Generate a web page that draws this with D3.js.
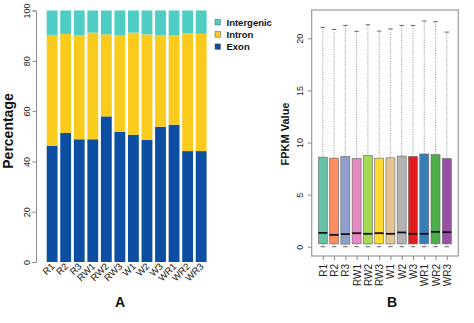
<!DOCTYPE html>
<html>
<head>
<meta charset="utf-8">
<script src="https://cdn.jsdelivr.net/npm/d3@7/dist/d3.min.js"></script>
<style>
  body { margin: 0; background: #fff; }
  svg { display: block; font-family: "Liberation Sans", Arial, sans-serif; }
</style>
</head>
<body>
<svg id="fig" width="474" height="323"></svg>
<script>
// samples shared by both panels
var samples = ["R1", "R2", "R3", "RW1", "RW2", "RW3", "W1", "W2", "W3", "WR1", "WR2", "WR3"];

// panel A: read percentages per sample (exon, intron, intergenic add to 100)
var exon   = [46.2, 51.3, 48.8, 48.8, 57.9, 51.7, 50.6, 48.5, 53.8, 54.6, 44.1, 44.1];
var intron = [44.1, 39.4, 41.3, 42.4, 32.6, 38.4, 40.6, 42.0, 36.3, 35.5, 46.8, 46.6];
var intergenic = exon.map(function(e, i) { return 100 - e - intron[i]; });
var pctTicks = [0, 20, 40, 60, 80, 100];

// panel B: FPKM box stats
var fpkmMin = [0, 0, 0, 0, 0, 0, 0, 0, 0, 0, 0, 0];
var fpkmQ1  = [0.28, 0.27, 0.25, 0.28, 0.27, 0.28, 0.27, 0.27, 0.27, 0.28, 0.28, 0.27];
var fpkmMed = [1.33, 1.14, 1.21, 1.30, 1.24, 1.30, 1.24, 1.37, 1.24, 1.24, 1.43, 1.40];
var fpkmQ3  = [8.6, 8.5, 8.66, 8.47, 8.75, 8.5, 8.53, 8.7, 8.66, 8.9, 8.85, 8.47];
var fpkmMax = [21.05, 20.86, 21.24, 20.67, 21.3, 20.7, 20.9, 21.24, 21.24, 21.66, 21.6, 20.6];
var fpkmTicks = [0, 5, 10, 15, 20];
var boxColors = ["#66C2A5", "#FC8D62", "#8DA0CB", "#E78AC3", "#A6D854", "#FFD92F",
                 "#E5C494", "#B3B3B3", "#E41A1C", "#377EB8", "#4DAF4A", "#984EA3"];

var svg = d3.select("#fig");

// ---------- A: stacked percentage bars ----------
var regions = ["exon", "intron", "intergenic"];
var regionLabel = { intergenic: "Intergenic", intron: "Intron", exon: "Exon" };
var regionColor = { exon: "#0B4EA2", intron: "#FACB1C", intergenic: "#4ECDC4" };

var rows = samples.map(function(s, i) {
  return { sample: s, exon: exon[i], intron: intron[i], intergenic: intergenic[i] };
});
var stacked = d3.stack().keys(regions)(rows);

var xa = d3.scaleBand().domain(samples).range([45.35, 207.95])
  .paddingInner(0.2).paddingOuter(0.1);
var ya = d3.scaleLinear().domain([0, 100]).range([262, 10.5]);

var gA = svg.append("g");
gA.selectAll("g.layer").data(stacked).enter().append("g")
    .attr("class", "layer")
    .attr("fill", function(d) { return regionColor[d.key]; })
  .selectAll("rect").data(function(d) { return d; }).enter().append("rect")
    .attr("x", function(d) { return xa(d.data.sample); })
    .attr("width", xa.bandwidth())
    .attr("y", function(d) { return ya(d[1]); })
    .attr("height", function(d) { return ya(d[0]) - ya(d[1]); });

var axA = gA.append("g").attr("transform", "translate(36,0)")
  .call(d3.axisLeft(ya).tickValues(pctTicks).tickSize(3.5).tickPadding(4));
axA.select(".domain").attr("stroke", "#8a8a8a");
axA.selectAll(".tick line").attr("stroke", "#8a8a8a");
axA.selectAll(".tick text")
    .attr("font-size", 9).attr("fill", "#222")
    .attr("text-anchor", "middle")
    .attr("transform", function(d) { return "translate(-9," + 0 + ") rotate(-90)"; })
    .attr("x", 0).attr("dy", "0.35em");

gA.selectAll("text.xl").data(samples).enter().append("text")
    .attr("class", "xl")
    .attr("transform", function(d) {
      return "translate(" + (xa(d) + xa.bandwidth() / 2 + 3) + ",267) rotate(-45)";
    })
    .attr("text-anchor", "end")
    .attr("font-size", 9.5).attr("fill", "#111")
    .text(function(d) { return d; });

gA.append("text")
    .attr("transform", "translate(13,131) rotate(-90)")
    .attr("text-anchor", "middle")
    .attr("font-size", 14).attr("font-weight", "bold").attr("fill", "#111")
    .text("Percentage");

gA.append("text").attr("x", 120).attr("y", 306.5)
    .attr("text-anchor", "middle")
    .attr("font-size", 14).attr("font-weight", "bold").attr("fill", "#111")
    .text("A");

var legend = gA.selectAll("g.leg").data(["intergenic", "intron", "exon"]).enter().append("g")
    .attr("class", "leg")
    .attr("transform", function(d, i) { return "translate(215," + (19.5 + i * 12.2) + ")"; });
legend.append("rect").attr("width", 5.5).attr("height", 5.5)
    .attr("fill", function(d) { return regionColor[d]; })
    .attr("stroke", "#555").attr("stroke-width", 0.5);
legend.append("text").attr("x", 11.5).attr("y", 6.2)
    .attr("font-size", 9.5).attr("font-weight", "bold").attr("fill", "#111")
    .text(function(d) { return regionLabel[d]; });

// ---------- B: FPKM boxplots ----------
var xb = d3.scalePoint().domain(samples).range([322.8, 446.8]);
var yb = d3.scaleLinear().domain([-0.89, 22.72]).range([256, 10]);
var boxW = 9, capW = 4.5;

var gB = svg.append("g");
gB.append("rect").attr("x", 311.7).attr("y", 10)
    .attr("width", 146.6).attr("height", 246)
    .attr("fill", "none").attr("stroke", "#999").attr("stroke-width", 1.2);

var boxes = gB.selectAll("g.box").data(samples).enter().append("g").attr("class", "box");
boxes.append("line")
    .attr("x1", function(d) { return xb(d); }).attr("x2", function(d) { return xb(d); })
    .attr("y1", function(d, i) { return yb(fpkmQ3[i]); })
    .attr("y2", function(d, i) { return yb(fpkmMax[i]); })
    .attr("stroke", "#888").attr("stroke-width", 0.8).attr("stroke-dasharray", "1.2,1.2");
boxes.append("line")
    .attr("x1", function(d) { return xb(d); }).attr("x2", function(d) { return xb(d); })
    .attr("y1", function(d, i) { return yb(fpkmQ1[i]); })
    .attr("y2", function(d, i) { return yb(fpkmMin[i]); })
    .attr("stroke", "#888").attr("stroke-width", 0.8).attr("stroke-dasharray", "1.2,1.2");
[fpkmMax, fpkmMin].forEach(function(arr) {
  boxes.append("line")
      .attr("x1", function(d) { return xb(d) - capW / 2; })
      .attr("x2", function(d) { return xb(d) + capW / 2; })
      .attr("y1", function(d, i) { return yb(arr[i]); })
      .attr("y2", function(d, i) { return yb(arr[i]); })
      .attr("stroke", "#555").attr("stroke-width", 0.9);
});
boxes.append("rect")
    .attr("x", function(d) { return xb(d) - boxW / 2; })
    .attr("width", boxW)
    .attr("y", function(d, i) { return yb(fpkmQ3[i]); })
    .attr("height", function(d, i) { return yb(fpkmQ1[i]) - yb(fpkmQ3[i]); })
    .attr("fill", function(d, i) { return boxColors[i]; })
    .attr("stroke", "#666").attr("stroke-width", 0.6);
boxes.append("line")
    .attr("x1", function(d) { return xb(d) - boxW / 2; })
    .attr("x2", function(d) { return xb(d) + boxW / 2; })
    .attr("y1", function(d, i) { return yb(fpkmMed[i]); })
    .attr("y2", function(d, i) { return yb(fpkmMed[i]); })
    .attr("stroke", "#111").attr("stroke-width", 1.8);

var axB = gB.append("g").attr("transform", "translate(311.7,0)")
  .call(d3.axisLeft(yb).tickValues(fpkmTicks).tickSize(4).tickPadding(4));
axB.select(".domain").remove();
axB.selectAll(".tick line").attr("stroke", "#8a8a8a");
axB.selectAll(".tick text")
    .attr("font-size", 9).attr("fill", "#222")
    .attr("text-anchor", "middle")
    .attr("transform", "translate(-11.5,0) rotate(-90)")
    .attr("x", 0).attr("dy", "0.35em");

var axBx = gB.append("g").attr("transform", "translate(0,256)")
  .call(d3.axisBottom(xb).tickSize(4).tickPadding(3));
axBx.select(".domain").remove();
axBx.selectAll(".tick line").attr("stroke", "#8a8a8a");
axBx.selectAll(".tick text")
    .attr("font-size", 10).attr("fill", "#222")
    .attr("text-anchor", "end")
    .attr("transform", "rotate(-90)")
    .attr("x", -8).attr("y", 0).attr("dy", "0.35em");

gB.append("text")
    .attr("transform", "translate(289,134) rotate(-90)")
    .attr("text-anchor", "middle")
    .attr("font-size", 11).attr("font-weight", "bold").attr("fill", "#111")
    .text("FPKM Value");

gB.append("text").attr("x", 392).attr("y", 307)
    .attr("text-anchor", "middle")
    .attr("font-size", 14).attr("font-weight", "bold").attr("fill", "#111")
    .text("B");
</script>
</body>
</html>
